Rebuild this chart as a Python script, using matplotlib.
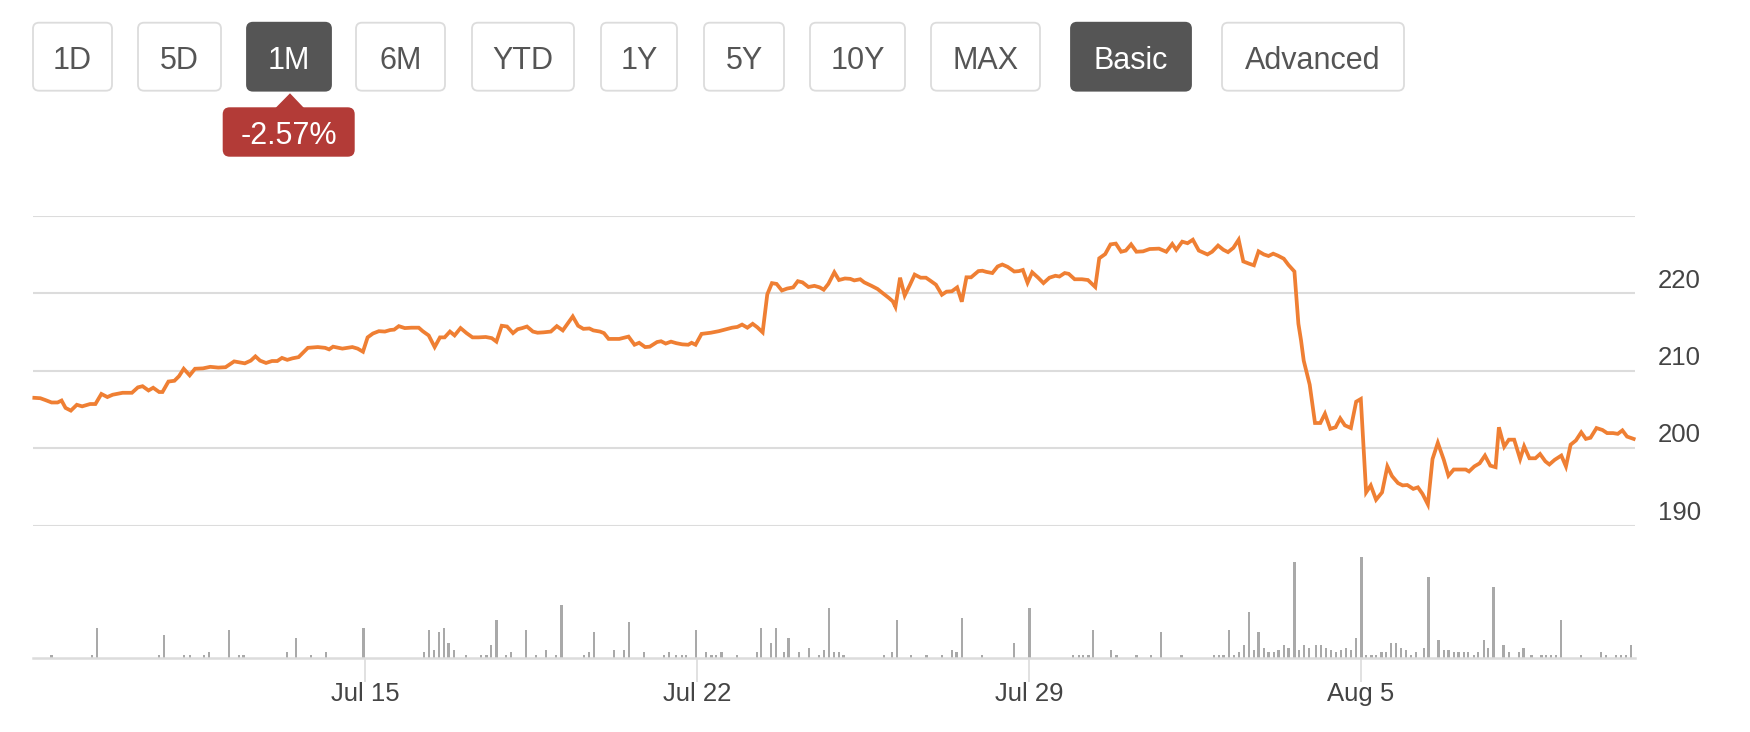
import matplotlib
matplotlib.use("Agg")
import matplotlib.pyplot as plt
import matplotlib.transforms as mtransforms
from matplotlib.patches import FancyBboxPatch, Polygon

plt.rcParams['font.family'] = ['Liberation Sans', 'DejaVu Sans']

# price trace: (trading days since Jul 8 open, price)
price_points = [
    (0.02, 206.5), (0.11, 206.45), (0.19, 206.2), (0.28, 205.9), (0.37, 205.9), (0.43, 206.15),
    (0.49, 205.2), (0.57, 204.85), (0.66, 205.6), (0.74, 205.4), (0.86, 205.7), (0.94, 205.7),
    (1.03, 207.0), (1.12, 206.6), (1.20, 206.9), (1.35, 207.15), (1.49, 207.15), (1.58, 207.85),
    (1.65, 208.0), (1.74, 207.45), (1.81, 207.8), (1.90, 207.25), (1.95, 207.25), (2.04, 208.6),
    (2.13, 208.7), (2.20, 209.3), (2.27, 210.25), (2.36, 209.4), (2.44, 210.25), (2.56, 210.3),
    (2.67, 210.5), (2.79, 210.4), (2.90, 210.45), (3.03, 211.2), (3.19, 210.95), (3.28, 211.3),
    (3.35, 211.85), (3.42, 211.3), (3.51, 211.0), (3.60, 211.25), (3.68, 211.25), (3.75, 211.65),
    (3.83, 211.4), (3.91, 211.6), (4.00, 211.75), (4.14, 212.95), (4.29, 213.05), (4.40, 212.95),
    (4.46, 212.75), (4.52, 213.1), (4.66, 212.85), (4.81, 213.05), (4.89, 212.85), (4.97, 212.45),
    (5.04, 214.3), (5.12, 214.8), (5.21, 215.1), (5.30, 215.05), (5.38, 215.25), (5.44, 215.3),
    (5.51, 215.75), (5.60, 215.5), (5.70, 215.55), (5.81, 215.55), (5.87, 215.1), (5.96, 214.55),
    (6.05, 213.05), (6.13, 214.3), (6.20, 214.3), (6.28, 215.05), (6.35, 214.55), (6.44, 215.5),
    (6.53, 214.85), (6.62, 214.3), (6.71, 214.3), (6.82, 214.35), (6.91, 214.2), (6.98, 213.75),
    (7.06, 215.8), (7.14, 215.7), (7.23, 214.85), (7.30, 215.35), (7.37, 215.5), (7.44, 215.7),
    (7.53, 215.05), (7.60, 214.9), (7.69, 214.95), (7.80, 215.05), (7.89, 215.75), (7.98, 215.2),
    (8.06, 216.15), (8.13, 217.0), (8.21, 215.8), (8.29, 215.4), (8.38, 215.45), (8.44, 215.2),
    (8.54, 215.05), (8.60, 214.85), (8.67, 214.1), (8.83, 214.1), (8.97, 214.4), (9.06, 213.35),
    (9.13, 213.6), (9.22, 213.05), (9.29, 213.1), (9.40, 213.7), (9.46, 213.8), (9.53, 213.5),
    (9.61, 213.75), (9.69, 213.55), (9.78, 213.4), (9.87, 213.35), (9.92, 213.6), (9.98, 213.35),
    (10.07, 214.75), (10.21, 214.9), (10.33, 215.1), (10.44, 215.35), (10.53, 215.55), (10.61, 215.65),
    (10.68, 215.95), (10.76, 215.55), (10.84, 216.05), (10.91, 215.6), (10.99, 214.95), (11.06, 219.85),
    (11.13, 221.3), (11.20, 221.2), (11.28, 220.35), (11.36, 220.6), (11.45, 220.75), (11.52, 221.55),
    (11.59, 221.4), (11.68, 220.8), (11.77, 220.95), (11.85, 220.75), (11.91, 220.45), (11.98, 221.2),
    (12.07, 222.7), (12.14, 221.7), (12.23, 221.9), (12.31, 221.85), (12.37, 221.65), (12.46, 221.8),
    (12.52, 221.4), (12.63, 220.95), (12.72, 220.55), (12.80, 220.0), (12.89, 219.4), (12.95, 218.95),
    (12.99, 218.25), (13.06, 222.0), (13.13, 219.7), (13.21, 221.1), (13.28, 222.4), (13.37, 222.0),
    (13.45, 222.0), (13.51, 221.65), (13.60, 221.1), (13.69, 219.8), (13.76, 220.2), (13.84, 220.25),
    (13.92, 220.75), (13.99, 218.9), (14.06, 222.05), (14.13, 222.05), (14.24, 222.85), (14.30, 222.9),
    (14.36, 222.75), (14.45, 222.6), (14.53, 223.45), (14.60, 223.7), (14.68, 223.4), (14.78, 222.8),
    (14.85, 222.85), (14.91, 223.0), (14.98, 221.35), (15.05, 222.7), (15.14, 222.0), (15.22, 221.3),
    (15.31, 222.0), (15.40, 222.25), (15.46, 222.15), (15.54, 222.6), (15.60, 222.5), (15.69, 221.8),
    (15.80, 221.8), (15.89, 221.7), (16.00, 220.8), (16.06, 224.5), (16.15, 225.05), (16.23, 226.3),
    (16.31, 226.4), (16.39, 225.35), (16.46, 225.5), (16.54, 226.3), (16.62, 225.35), (16.72, 225.4),
    (16.82, 225.7), (16.96, 225.75), (17.07, 225.35), (17.16, 226.35), (17.22, 225.6), (17.31, 226.65),
    (17.39, 226.45), (17.47, 226.9), (17.56, 225.5), (17.69, 225.0), (17.76, 225.35), (17.85, 226.15),
    (17.93, 225.6), (18.00, 225.3), (18.08, 225.85), (18.16, 226.9), (18.23, 224.1), (18.32, 223.8),
    (18.39, 223.6), (18.46, 225.4), (18.54, 225.0), (18.61, 224.8), (18.68, 225.1), (18.75, 224.85),
    (18.84, 224.45), (18.91, 223.65), (19.00, 222.8), (19.06, 216.05), (19.10, 213.9), (19.14, 211.3),
    (19.19, 209.6), (19.23, 208.2), (19.27, 205.7), (19.31, 203.25), (19.39, 203.25), (19.46, 204.45),
    (19.54, 202.5), (19.62, 202.7), (19.69, 203.85), (19.76, 202.95), (19.85, 202.6), (19.93, 206.0),
    (20.00, 206.35), (20.08, 194.3), (20.15, 195.2), (20.23, 193.35), (20.32, 194.3), (20.40, 197.65),
    (20.47, 196.4), (20.56, 195.5), (20.63, 195.2), (20.70, 195.25), (20.79, 194.75), (20.86, 194.95),
    (20.93, 194.1), (21.01, 192.75), (21.08, 198.6), (21.16, 200.7), (21.25, 198.5), (21.32, 196.45),
    (21.40, 197.25), (21.49, 197.25), (21.58, 197.25), (21.63, 197.0), (21.71, 197.65), (21.79, 198.05),
    (21.87, 199.05), (21.95, 197.75), (22.03, 197.55), (22.08, 202.7), (22.16, 200.2), (22.23, 201.1),
    (22.31, 201.1), (22.40, 198.6), (22.46, 200.25), (22.54, 198.7), (22.63, 198.7), (22.70, 199.25),
    (22.78, 198.3), (22.84, 197.9), (22.92, 198.5), (23.02, 199.05), (23.09, 197.65), (23.16, 200.45),
    (23.24, 201.0), (23.32, 202.05), (23.39, 201.2), (23.46, 201.35), (23.55, 202.6), (23.64, 202.35),
    (23.71, 201.95), (23.80, 201.95), (23.87, 201.85), (23.94, 202.3), (24.01, 201.5), (24.11, 201.2),
]

# volume bars: (trading days since Jul 8 open, relative volume)
volume_points = [
    (0.28, 0.27), (0.89, 0.27), (0.96, 3.0), (1.90, 0.27), (1.97, 2.3), (2.28, 0.27), (2.36, 0.27),
    (2.58, 0.27), (2.65, 0.53), (2.95, 2.8), (3.10, 0.27), (3.17, 0.27), (3.83, 0.53), (3.96, 2.0),
    (4.19, 0.27), (4.41, 0.53), (4.98, 3.0), (5.89, 0.53), (5.96, 2.8), (6.04, 0.8), (6.11, 2.55),
    (6.19, 3.0), (6.26, 1.5), (6.34, 0.8), (6.52, 0.27), (6.75, 0.27), (6.83, 0.27), (6.90, 1.3),
    (6.98, 3.8), (7.13, 0.27), (7.20, 0.53), (7.43, 2.8), (7.58, 0.27), (7.73, 0.8), (7.88, 0.27),
    (7.96, 5.3), (8.30, 0.27), (8.38, 0.53), (8.45, 2.55),
    (8.75, 0.8), (8.90, 0.8), (8.98, 3.55), (9.20, 0.53), (9.50, 0.27), (9.58, 0.53), (9.69, 0.27),
    (9.77, 0.27), (9.84, 0.27), (9.99, 2.8), (10.14, 0.53), (10.22, 0.27), (10.29, 0.27), (10.37, 0.53),
    (10.60, 0.27), (10.90, 0.53), (10.97, 3.0), (11.12, 1.5), (11.19, 3.0), (11.31, 0.53), (11.38, 2.0),
    (11.54, 0.53), (11.69, 1.0), (11.84, 0.27), (11.91, 0.8), (11.99, 5.0), (12.06, 0.53), (12.14, 0.53),
    (12.21, 0.27), (12.82, 0.27), (12.94, 0.53), (13.01, 3.8), (13.23, 0.27), (13.46, 0.27), (13.69, 0.27),
    (13.84, 0.8), (13.91, 0.53), (13.99, 4.0), (14.29, 0.27), (14.78, 1.5), (15.01, 5.0), (15.67, 0.27),
    (15.75, 0.27), (15.82, 0.27), (15.90, 0.27), (15.97, 2.8), (16.24, 0.8), (16.32, 0.27), (16.62, 0.27),
    (16.84, 0.27), (16.99, 2.55), (17.30, 0.27),
    (17.79, 0.27), (17.86, 0.27), (17.93, 0.27), (18.02, 2.8), (18.09, 0.27), (18.17, 0.53), (18.24, 1.3),
    (18.32, 4.55), (18.39, 0.8), (18.46, 2.55), (18.54, 1.0), (18.61, 0.53), (18.69, 0.53), (18.76, 0.8),
    (18.84, 1.3), (18.91, 1.0), (19.00, 9.55), (19.07, 0.8), (19.14, 1.3), (19.22, 1.0), (19.32, 1.3),
    (19.40, 1.3), (19.48, 1.0), (19.55, 0.8), (19.63, 0.53), (19.70, 0.8), (19.78, 1.0), (19.85, 0.8),
    (19.93, 2.0), (20.01, 10.05), (20.08, 0.27), (20.16, 0.27), (20.23, 0.27), (20.31, 0.53), (20.38, 0.53),
    (20.46, 1.5), (20.53, 1.5), (20.61, 1.0), (20.68, 0.8), (20.76, 0.27), (20.83, 0.53), (20.95, 1.0),
    (21.02, 8.05), (21.17, 1.8), (21.25, 0.8), (21.32, 0.8), (21.40, 0.53), (21.47, 0.53), (21.55, 0.53),
    (21.62, 0.53), (21.70, 0.27), (21.77, 0.53), (21.85, 1.8), (21.92, 1.0), (22.00, 7.05), (22.15, 1.3),
    (22.23, 0.53), (22.38, 0.53), (22.45, 1.0), (22.57, 0.27), (22.72, 0.27), (22.79, 0.27), (22.87, 0.27),
    (22.94, 0.27), (23.02, 3.8), (23.32, 0.27), (23.62, 0.53), (23.69, 0.27), (23.84, 0.27), (23.92, 0.27),
    (23.99, 0.27), (24.07, 1.3),
]

date_ticks = [5, 10, 15, 20]
date_labels = ['Jul 15', 'Jul 22', 'Jul 29', 'Aug 5']
price_ticks = [190, 200, 210, 220, 230]
price_labels = ['190', '200', '210', '220', '']

range_buttons = ['1D', '5D', '1M', '6M', 'YTD', '1Y', '5Y', '10Y', 'MAX', 'Basic', 'Advanced']
active_buttons = ['1M', 'Basic']
change_text = '-2.57%'

# button layout in pixels (left, right)
btn_left = [33, 138, 247, 356, 472, 601, 704, 810, 931, 1071, 1222]
btn_right = [112, 221, 331, 445, 574, 677, 784, 905, 1040, 1191, 1404]

ORANGE = '#EF7F33'
GRID = '#dcdcdc'
TEXT = '#444444'

W, H = 1750, 732
fig = plt.figure(figsize=(W / 100, H / 100), dpi=100)

x0, x1 = 33, 1635
ax = fig.add_axes([x0 / W, 1 - 525.7 / H, (x1 - x0) / W, 310 / H])
ax.set_xlim(0, 24.13)
ax.set_ylim(190, 230)
for s in ax.spines.values():
    s.set_visible(False)
ax.set_yticks(price_ticks)
ax.set_xticks([])
ax.tick_params(axis='y', length=0, labelleft=False)
ax.grid(axis='y', color=GRID, lw=1.5)
ax.set_axisbelow(True)

pt = [p[0] for p in price_points]
pv = [p[1] for p in price_points]
ax.plot(pt, pv, color=ORANGE, lw=2.7, solid_joinstyle='miter', clip_on=False)

lab_tr = mtransforms.offset_copy(ax.get_yaxis_transform(), fig=fig, x=0, y=5.7, units='dots')
for v, lab in zip(price_ticks, price_labels):
    ax.text((1658 - x0) / (x1 - x0), v, lab, transform=lab_tr, ha='left', va='baseline',
            fontsize=18.5, color=TEXT)

# volume panel
axv = fig.add_axes([x0 / W, 1 - 657.7 / H, (x1 - x0) / W, 110 / H])
axv.set_xlim(0, 24.13)
axv.set_ylim(0, 11)
for s in axv.spines.values():
    s.set_visible(False)
vt = [p[0] for p in volume_points]
vv = [p[1] for p in volume_points]
axv.bar(vt, vv, width=0.034, color='#a9a9a9', align='center')
axv.axhline(0, color=GRID, lw=1.8, clip_on=False, zorder=3)
axv.set_yticks([])
axv.set_xticks(date_ticks)
axv.set_xticklabels([''] * len(date_ticks))
axv.tick_params(axis='x', length=17.3, width=1.2, color=GRID, direction='out')
date_tr = mtransforms.offset_copy(axv.get_xaxis_transform(), fig=fig, x=0, y=-43, units='dots')
for t, lab in zip(date_ticks, date_labels):
    axv.text(t, 0, lab, transform=date_tr, ha='center', va='baseline', fontsize=18.5, color=TEXT)

# top controls
ui = fig.add_axes([0, 0, 1, 1])
ui.set_xlim(0, W)
ui.set_ylim(H, 0)
ui.axis('off')
for lab, l, r in zip(range_buttons, btn_left, btn_right):
    on = lab in active_buttons
    box = FancyBboxPatch((l, 22.7), r - l, 68, boxstyle='round,pad=0,rounding_size=6',
                         facecolor='#555555' if on else 'white',
                         edgecolor='#555555' if on else '#dcdcdc', lw=1.3)
    ui.add_patch(box)
    ui.text((l + r) / 2, 69.3, lab, ha='center', va='baseline', fontsize=22,
            color='white' if on else '#555555')

ui.add_patch(Polygon([[275.5, 108], [290, 93.3], [304, 108]], closed=True,
                     facecolor='#B33B37', edgecolor='none'))
ui.add_patch(FancyBboxPatch((222.7, 107.3), 132, 49.4, boxstyle='round,pad=0,rounding_size=7',
                            facecolor='#B33B37', edgecolor='none'))
ui.text(289, 144, change_text, ha='center', va='baseline', fontsize=22, color='white')

fig.savefig('out.png', dpi=100, facecolor='white')
